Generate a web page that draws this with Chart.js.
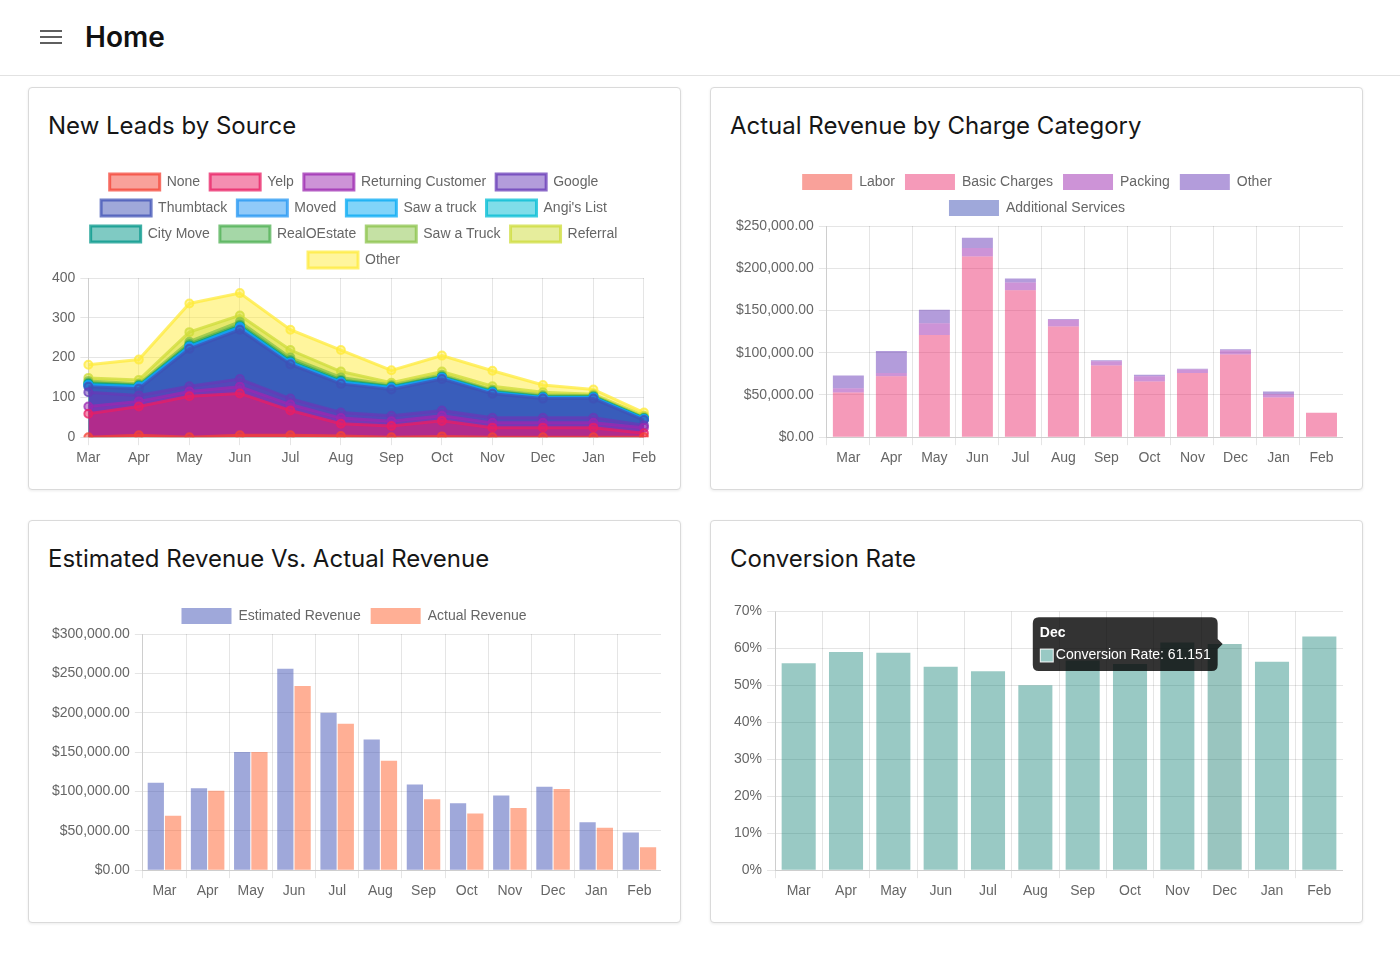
<!DOCTYPE html>
<html>
<head>
<meta charset="utf-8">
<title>Home</title>
<script src="https://cdn.jsdelivr.net/npm/chart.js@4.4.1/dist/chart.umd.min.js"></script>
<style>
  body{margin:0;width:1400px;height:973px;background:#fff;position:relative;overflow:hidden;font-family:Inter,"Noto Sans",sans-serif}
  .topbar{position:absolute;left:0;top:0;width:1400px;height:75px;border-bottom:1px solid #e2e2e2}
  .burger{position:absolute;left:40px;top:30px;width:22px}
  .burger span{display:block;height:2px;background:#5f5f5f;margin-bottom:4px}
  .topbar h1{position:absolute;left:85px;top:19px;margin:0;font-size:28px;line-height:36px;font-weight:600;color:#111}
  .card{position:absolute;width:651px;height:401px;border:1px solid #dadada;border-radius:4px;box-shadow:0 1px 3px rgba(0,0,0,.08);background:#fff}
  .card h2{position:absolute;left:19px;top:24px;margin:0;font-size:24px;line-height:28px;font-weight:400;color:#161616}
  .chartbox{position:absolute;left:18px;top:76px;width:614px;height:308px}
  .row2 .chartbox{top:77px;height:307px}
</style>
</head>
<body>
<div class="topbar">
  <div class="burger"><span></span><span></span><span></span></div>
  <h1>Home</h1>
</div>

<div class="card" style="left:28px;top:87px">
  <h2>New Leads by Source</h2>
  <div class="chartbox"><canvas id="leadschart"></canvas></div>
</div>
<div class="card" style="left:710px;top:87px">
  <h2>Actual Revenue by Charge Category</h2>
  <div class="chartbox" style="left:20px;width:612px"><canvas id="chargechart"></canvas></div>
</div>
<div class="card row2" style="left:28px;top:520px">
  <h2>Estimated Revenue Vs. Actual Revenue</h2>
  <div class="chartbox"><canvas id="estimatechart"></canvas></div>
</div>
<div class="card row2" style="left:710px;top:520px">
  <h2>Conversion Rate</h2>
  <div class="chartbox"><canvas id="conversionchart"></canvas></div>
</div>

<script>
// months shown on every chart
const months = ['Mar','Apr','May','Jun','Jul','Aug','Sep','Oct','Nov','Dec','Jan','Feb']

// new leads by source (stacked)
const leadSources = ['None','Yelp','Returning Customer','Google','Thumbtack','Moved','Saw a truck',"Angi's List",'City Move','RealOEstate','Saw a Truck','Referral','Other']
const leadsNone        = [0,5,0,5,5,3,0,2,0,0,0,0]
const leadsYelp        = [59,72,103,105,62,31,28,39,24,24,24,10]
const leadsReturning   = [18,13,12,17,15,14,12,13,12,12,12,14]
const leadsGoogle      = [36,15,13,19,15,14,14,13,13,13,13,6]
const leadsThumbtack   = [14,17,94,124,86,72,66,79,60,48,48,13]
const leadsMoved       = [3,4,4,5,3,3,3,3,2,2,2,2]
const leadsSawTruck    = [1,1,1,1,1,1,1,0,1,1,1,1]
const leadsAngis       = [1,1,1,1,1,1,1,1,1,0,0,0]
const leadsCityMove    = [2,1,2,2,2,2,1,1,1,1,1,1]
const leadsRealEstate  = [3,2,4,4,4,3,2,2,2,2,2,1]
const leadsSawTruck2   = [4,3,6,7,6,6,3,4,3,3,2,2]
const leadsReferral    = [8,10,24,16,19,15,6,8,9,7,3,4]
const leadsOther       = [33,51,72,56,51,54,31,40,39,18,12,8]
const leadsTicks       = [0,100,200,300,400]

// actual revenue by charge category (stacked)
const chargeCategories = ['Labor','Basic Charges','Packing','Other','Additional Services']
const chargeLabor      = [0,0,0,0,0,0,0,0,0,0,0,0]
const chargeBasic      = [53000,72000,121000,214000,174000,131000,85000,66000,76000,98000,47000,29000]
const chargePacking    = [5000,4000,14000,10000,9000,8000,5000,6000,4000,5000,4000,0]
const chargeOther      = [15000,26000,16000,12000,5000,1000,1000,2000,1000,1000,3000,0]
const chargeAdditional = [0,0,0,0,0,0,0,0,0,0,0,0]
const chargeTicks      = [0,50000,100000,150000,200000,250000]

// estimated vs actual revenue
const estimatedRevenue = [111000,104000,150000,256000,200000,166000,109000,85000,95000,106000,61000,48000]
const actualRevenue    = [69000,101000,150000,234000,186000,139000,90000,72000,79000,103000,54000,29000]
const revenueTicks     = [0,50000,100000,150000,200000,250000,300000]

// conversion rate (%)
const conversionRate   = [56.0,59.0,58.8,55.0,53.8,50.0,56.7,55.8,61.6,61.151,56.4,63.2]
const conversionTicks  = [0,10,20,30,40,50,60,70]
const highlightMonth   = 'Dec'

// material palette used by the dashboard
const palette = [[244,67,54],[233,30,99],[156,39,176],[103,58,183],[63,81,181],[33,150,243],[3,169,244],[0,188,212],[0,150,136],[76,175,80],[139,195,74],[205,220,57],[255,235,59]]
const rgba = (c,a)=>`rgba(${c[0]},${c[1]},${c[2]},${a})`

Chart.defaults.font.family = "'Helvetica Neue', Helvetica, Arial, sans-serif"
Chart.defaults.font.size = 14
Chart.defaults.color = '#666'
Chart.defaults.animation = false
Chart.defaults.responsive = true
Chart.defaults.maintainAspectRatio = false

const legendLabels = {boxWidth:50, boxHeight:16, padding:10, font:{size:14}}
const gridStyle = {color:'rgba(0,0,0,0.1)'}
const money = v=>'$'+Number(v).toLocaleString('en-US',{minimumFractionDigits:2,maximumFractionDigits:2})

// tick helper: keep only the listed values
const fixedTicks = list=>(axis)=>{ axis.ticks = list.map(v=>({value:v})) }

// --- new leads by source
const leadsSeries = [leadsNone,leadsYelp,leadsReturning,leadsGoogle,leadsThumbtack,leadsMoved,leadsSawTruck,leadsAngis,leadsCityMove,leadsRealEstate,leadsSawTruck2,leadsReferral,leadsOther]
// the big thumbtack layer renders almost solid in the dashboard
const fillAlpha = i=> i===4 ? 0.85 : (i===3 ? 0.6 : 0.5)
new Chart(document.getElementById('leadschart'), {
  type:'line',
  data:{
    labels:months,
    datasets:leadSources.map((name,i)=>({
      label:name,
      data:leadsSeries[i],
      backgroundColor:rgba(palette[i],0.5),
      borderColor:rgba(palette[i],0.75),
      borderWidth:3,
      pointRadius:4,
      pointBorderWidth:2,
      fill:{target:'origin', above:rgba(palette[i],fillAlpha(i))},
      tension:0
    }))
  },
  options:{
    plugins:{legend:{position:'top',labels:legendLabels}, tooltip:{enabled:false}},
    scales:{
      x:{grid:gridStyle, ticks:{padding:5}},
      y:{stacked:true, min:leadsTicks[0], max:leadsTicks[leadsTicks.length-1], grid:gridStyle,
         ticks:{padding:5, stepSize:100}, afterBuildTicks:fixedTicks(leadsTicks)}
    }
  }
})

// --- actual revenue by charge category
const chargeSeries = [chargeLabor,chargeBasic,chargePacking,chargeOther,chargeAdditional]
const chargeAlpha = [0.5,0.45,0.5,0.5,0.5]
new Chart(document.getElementById('chargechart'), {
  type:'bar',
  data:{
    labels:months,
    datasets:chargeCategories.map((name,i)=>({
      label:name,
      data:chargeSeries[i],
      backgroundColor:rgba(palette[i],chargeAlpha[i]),
      borderWidth:0
    }))
  },
  options:{
    plugins:{legend:{labels:legendLabels}, tooltip:{enabled:false}},
    scales:{
      x:{stacked:true, grid:gridStyle, ticks:{padding:5}},
      y:{stacked:true, min:0, max:chargeTicks[chargeTicks.length-1], grid:gridStyle,
         ticks:{padding:5, callback:money}, afterBuildTicks:fixedTicks(chargeTicks)}
    }
  }
})

// --- estimated vs actual revenue
new Chart(document.getElementById('estimatechart'), {
  type:'bar',
  data:{
    labels:months,
    datasets:[
      {label:'Estimated Revenue', data:estimatedRevenue, backgroundColor:rgba([63,81,181],0.5), borderWidth:0},
      {label:'Actual Revenue', data:actualRevenue, backgroundColor:rgba([255,87,34],0.48), borderWidth:0}
    ]
  },
  options:{
    datasets:{bar:{barPercentage:0.94}},
    plugins:{legend:{labels:legendLabels}, tooltip:{enabled:false}},
    scales:{
      x:{grid:gridStyle, ticks:{padding:5}},
      y:{min:0, max:revenueTicks[revenueTicks.length-1], grid:gridStyle,
         ticks:{padding:5, callback:money}, afterBuildTicks:fixedTicks(revenueTicks)}
    }
  }
})

// --- conversion rate, with the Dec tooltip open
const conversion = new Chart(document.getElementById('conversionchart'), {
  type:'bar',
  data:{
    labels:months,
    datasets:[{label:'Conversion Rate', data:conversionRate, backgroundColor:'rgba(0,121,107,0.4)', borderWidth:0}]
  },
  options:{
    transitions:{active:{animation:{duration:0}}},
    plugins:{
      legend:{display:false},
      tooltip:{animation:false, titleFont:{size:14, weight:'bold'}, bodyFont:{size:14}, padding:7}
    },
    scales:{
      x:{grid:gridStyle, ticks:{padding:5}},
      y:{min:0, max:conversionTicks[conversionTicks.length-1], grid:gridStyle,
         ticks:{padding:5, callback:v=>v+'%'}, afterBuildTicks:fixedTicks(conversionTicks)}
    }
  }
})
const hoverIndex = months.indexOf(highlightMonth)
const activeBar = [{datasetIndex:0, index:hoverIndex}]
conversion.setActiveElements(activeBar)
const barEl = conversion.getDatasetMeta(0).data[hoverIndex]
conversion.tooltip.setActiveElements(activeBar, {x:barEl.x, y:barEl.y})
conversion.update()
</script>
</body>
</html>
